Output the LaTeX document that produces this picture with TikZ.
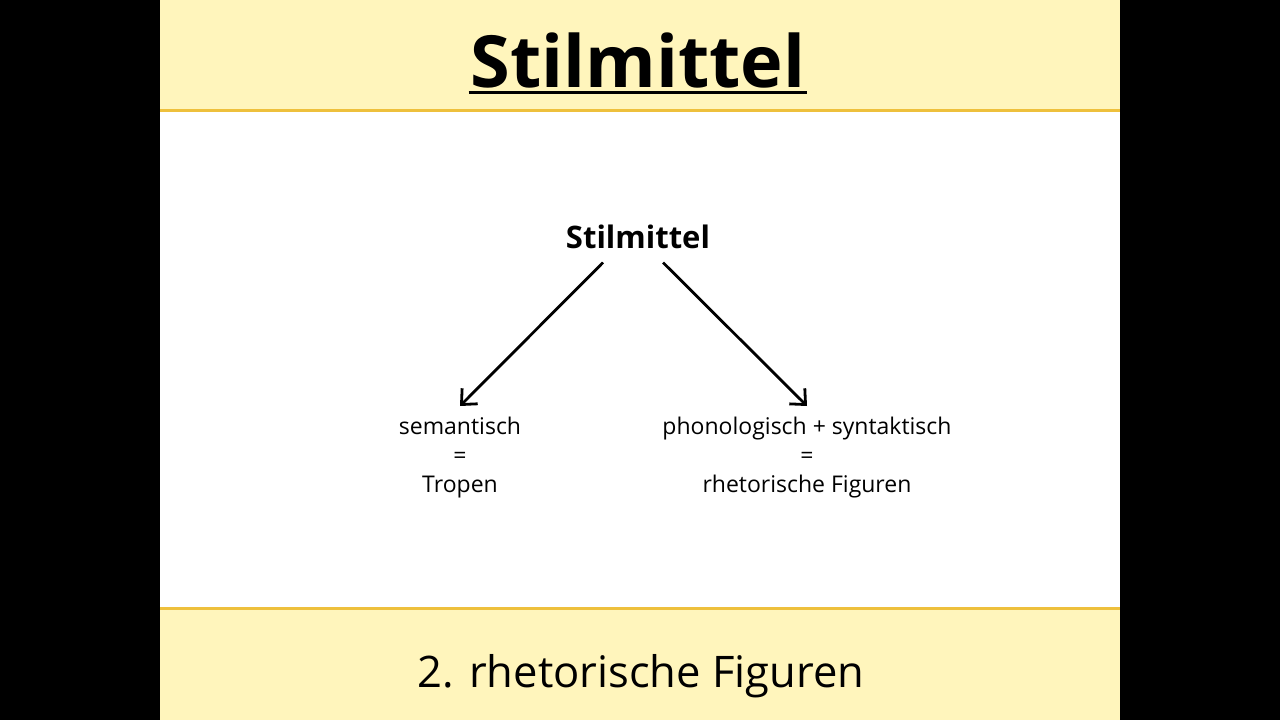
\documentclass[tikz,border=0pt]{standalone}
\usepackage{fontspec}
\setmainfont{Open Sans}
\usetikzlibrary{arrows.meta}
\definecolor{bandyellow}{HTML}{FFF5BC}
\definecolor{bandline}{HTML}{EEC03C}
\tikzset{
  lbl/.style={font=\fontsize{23}{29}\selectfont, align=center, inner sep=2pt},
  conn/.style={line width=2.8pt, -{Straight Barb[length=12pt,width=22pt,line width=2.8pt]}},
}
\begin{document}
\begin{tikzpicture}[x=1pt,y=-1pt]
\useasboundingbox (0,0) rectangle (1280,720);
\fill[black] (0,0) rectangle (1280,720);
\fill[white] (160,0) rectangle (1120,720);
\fill[bandyellow] (160,0) rectangle (1120,109);
\fill[bandyellow] (160,609) rectangle (1120,720);
\draw[bandline, line width=3pt] (160,110.5) -- (1120,110.5);
\draw[bandline, line width=3pt] (160,608.5) -- (1120,608.5);

\node[font=\fontsize{72}{76}\selectfont\bfseries, anchor=base, inner sep=0pt] (title) at (638,87) {Stilmittel};
\draw[line width=3.5pt] ([xshift=-2pt,yshift=-5.5pt]title.base west) -- ([xshift=2pt,yshift=-5.5pt]title.base east);

\node[font=\fontsize{31}{34}\selectfont\bfseries, inner sep=2pt, anchor=base] (mid) at (638,248) {Stilmittel};
\node[lbl, anchor=north] (left) at (460,415) {semantisch\\=\\Tropen};
\node[lbl, anchor=north] (right) at (807,415) {phonologisch + syntaktisch\\=\\rhetorische Figuren};

\draw[conn] ([xshift=-35pt,yshift=-12pt]mid.south) -- ([yshift=9pt]left.north);
\draw[conn] ([xshift=25pt,yshift=-12pt]mid.south) -- ([yshift=9pt]right.north);

\node[font=\fontsize{43.5}{47}\selectfont, anchor=base, inner sep=0pt] (foot) at (641,687) {2. rhetorische Figuren};
\end{tikzpicture}
\end{document}
